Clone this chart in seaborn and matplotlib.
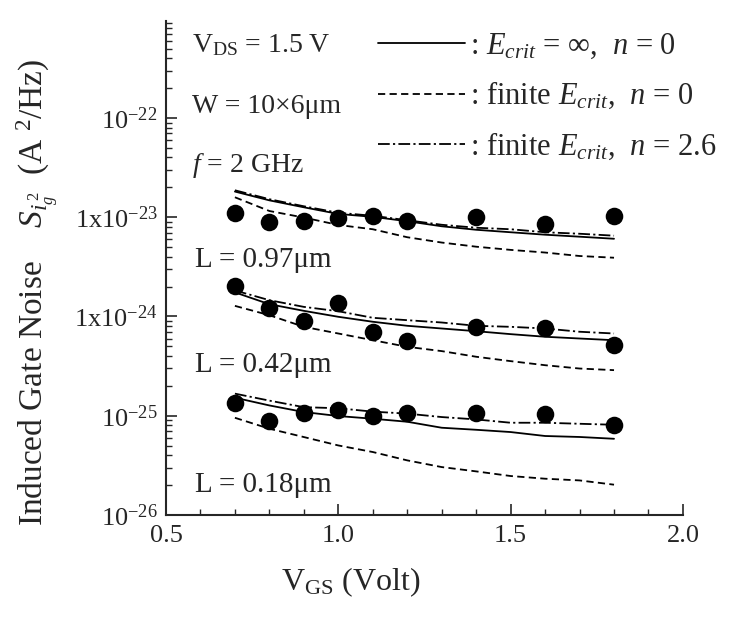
import numpy as np
import matplotlib
matplotlib.use("Agg")
import matplotlib.pyplot as plt
from matplotlib.lines import Line2D
from matplotlib.ticker import LogLocator, MultipleLocator, NullFormatter
import seaborn as sns
import pandas as pd

# gate voltage grids
vgs_curve = [0.7, 0.8, 0.9, 1.0, 1.1, 1.2, 1.3, 1.4, 1.5, 1.6, 1.7, 1.8]
vgs_meas = [0.7, 0.8, 0.9, 1.0, 1.1, 1.2, 1.4, 1.6, 1.8]

lengths = ["0.97", "0.42", "0.18"]

# measured induced gate noise (A^2/Hz)
meas_097 = [1.11e-23, 8.97e-24, 9.18e-24, 9.93e-24, 1.03e-23, 9.18e-24, 1.007e-23, 8.5e-24, 1.03e-23]
meas_042 = [2.04e-24, 1.22e-24, 8.97e-25, 1.37e-24, 7.0e-25, 5.64e-25, 7.8e-25, 7.57e-25, 5.22e-25]
meas_018 = [1.35e-25, 8.8e-26, 1.07e-25, 1.15e-25, 9.93e-26, 1.07e-25, 1.07e-25, 1.03e-25, 7.98e-26]

# model: E_crit = inf, n = 0
ideal_097 = [1.815e-23, 1.48e-23, 1.26e-23, 1.08e-23, 1.01e-23, 9.12e-24, 8.11e-24, 7.48e-24, 7.06e-24, 6.67e-24, 6.37e-24, 6.07e-24]
ideal_042 = [1.75e-24, 1.33e-24, 1.14e-24, 9.93e-25, 8.85e-25, 8.06e-25, 7.57e-25, 7.11e-25, 6.64e-25, 6.25e-25, 6.0e-25, 5.77e-25]
ideal_018 = [1.52e-25, 1.27e-25, 1.09e-25, 9.93e-26, 9.33e-26, 8.7e-26, 7.57e-26, 7.22e-26, 6.85e-26, 6.25e-26, 6.11e-26, 5.86e-26]

# model: finite E_crit, n = 0
sat_097 = [1.59e-23, 1.156e-23, 9.93e-24, 8.36e-24, 7.57e-24, 6.29e-24, 5.56e-24, 5.05e-24, 4.69e-24, 4.41e-24, 4.07e-24, 3.91e-24]
sat_042 = [1.28e-24, 1.03e-24, 7.87e-25, 6.74e-25, 5.77e-25, 4.95e-25, 4.48e-25, 3.93e-25, 3.55e-25, 3.23e-25, 2.99e-25, 2.88e-25]
sat_018 = [9.54e-26, 7.4e-26, 6.1e-26, 5.02e-26, 4.31e-26, 3.55e-26, 3.04e-26, 2.75e-26, 2.47e-26, 2.32e-26, 2.23e-26, 2.02e-26]

# model: finite E_crit, n = 2.6
n26_097 = [1.87e-23, 1.52e-23, 1.29e-23, 1.11e-23, 1.035e-23, 9.33e-24, 8.4e-24, 7.84e-24, 7.57e-24, 7.06e-24, 6.82e-24, 6.52e-24]
n26_042 = [1.83e-24, 1.46e-24, 1.25e-24, 1.13e-24, 9.7e-25, 9.18e-25, 8.7e-25, 8.06e-25, 7.87e-25, 7.57e-25, 7.02e-25, 6.74e-25]
n26_018 = [1.67e-25, 1.42e-25, 1.22e-25, 1.19e-25, 1.10e-25, 1.05e-25, 9.7e-26, 9.18e-26, 8.5e-26, 8.5e-26, 8.3e-26, 8.11e-26]

y_ticks = [1e-26, 1e-25, 1e-24, 1e-23, 1e-22]
y_ticklabels = [r"$10^{-26}$", r"$10^{-25}$", r"1x$10^{-24}$", r"1x$10^{-23}$", r"$10^{-22}$"]
x_ticks = [0.5, 1.0, 1.5, 2.0]
x_ticklabels = ["0.5", "1.0", "1.5", "2.0"]

sns.set_style("ticks")
plt.rcParams["font.family"] = ["Liberation Serif", "DejaVu Serif"]
plt.rcParams["mathtext.fontset"] = "custom"
plt.rcParams["mathtext.rm"] = "Liberation Serif"
plt.rcParams["mathtext.it"] = "Liberation Serif:italic"
plt.rcParams["mathtext.bf"] = "Liberation Serif:bold"
plt.rcParams["axes.unicode_minus"] = True

# long-form tables for seaborn
curve_rows = []
for L, ideal, sat, n26 in zip(lengths, [ideal_097, ideal_042, ideal_018],
                              [sat_097, sat_042, sat_018], [n26_097, n26_042, n26_018]):
    for name, vals in [("ideal", ideal), ("sat", sat), ("n26", n26)]:
        for v, s in zip(vgs_curve, vals):
            curve_rows.append({"VGS": v, "S": s, "model": name, "L": L})
curves = pd.DataFrame(curve_rows)

meas_rows = []
for L, vals in zip(lengths, [meas_097, meas_042, meas_018]):
    for v, s in zip(vgs_meas, vals):
        meas_rows.append({"VGS": v, "S": s, "L": L})
meas = pd.DataFrame(meas_rows)

lw = 1.3
dash_map = {"ideal": "", "sat": (4, 2.4), "n26": (6.5, 1.8, 1.2, 1.8)}

fig = plt.figure(figsize=(7.38, 6.24), dpi=100)
ax = fig.add_axes([0.2249, 0.1747, 0.7005, 0.7917])
ax.set_yscale("log")

sns.lineplot(data=curves, x="VGS", y="S", style="model", units="L", estimator=None,
             dashes=dash_map, color="black", linewidth=lw, legend=False, ax=ax)
sns.scatterplot(data=meas, x="VGS", y="S", color="black", s=160, linewidth=0,
                legend=False, ax=ax, zorder=3)

ax.set_xlim(0.5, 2.0)
ax.set_ylim(1e-26, 9.5e-22)
ax.set_xticks(x_ticks, x_ticklabels)
ax.set_yticks(y_ticks, y_ticklabels)
ax.xaxis.set_minor_locator(MultipleLocator(0.1))
ax.yaxis.set_minor_locator(LogLocator(base=10, subs=np.arange(2, 10)))
ax.yaxis.set_minor_formatter(NullFormatter())
ax.tick_params(which="major", direction="in", length=8, width=1.2, labelsize=19, pad=7)
ax.tick_params(which="minor", direction="in", length=4.5, width=1.0)
ax.tick_params(axis="y", which="major", pad=6)
ax.spines[["top", "right"]].set_visible(False)
for sp in ["left", "bottom"]:
    ax.spines[sp].set_linewidth(1.5)

ax.set_xlabel(r"V$_{\rm GS}$ (Volt)", fontsize=23)
ax.xaxis.set_label_coords(0.358, -0.103)
ax.set_ylabel(r"Induced Gate Noise    $S_{i_g^{\,2}}$  (A $^{2}$/Hz)", fontsize=24)
ax.yaxis.set_label_coords(-0.205, 0.45)

# condition annotations
ax.text(0.576, 10 ** -21.337, r"V$_{\rm DS}$ = 1.5 V", fontsize=20, va="baseline")
ax.text(0.576, 10 ** -21.952, "W = 10×6μm", fontsize=20, va="baseline")
ax.text(0.576, 10 ** -22.546, r"$f$ = 2 GHz", fontsize=20, va="baseline")
ax.text(0.585, 10 ** -23.503, "L = 0.97μm", fontsize=21, va="baseline")
ax.text(0.585, 10 ** -24.560, "L = 0.42μm", fontsize=21, va="baseline")
ax.text(0.585, 10 ** -25.768, "L = 0.18μm", fontsize=21, va="baseline")

handles = [
    Line2D([], [], color="black", lw=lw, linestyle="-"),
    Line2D([], [], color="black", lw=lw, dashes=dash_map["sat"]),
    Line2D([], [], color="black", lw=lw, dashes=dash_map["n26"]),
]
labels = [
    r": $E_{crit}$ = ∞,  $n$ = 0",
    r": finite $E_{crit}$,  $n$ = 0",
    r": finite $E_{crit}$,  $n$ = 2.6",
]
ax.legend(handles, labels, loc="upper left", bbox_to_anchor=(0.41, 0.978), frameon=False,
          fontsize=22, handlelength=2.85, handletextpad=0.15, labelspacing=0.62,
          borderpad=0, borderaxespad=0)

fig.savefig("out.png", dpi=100)
plt.close(fig)
